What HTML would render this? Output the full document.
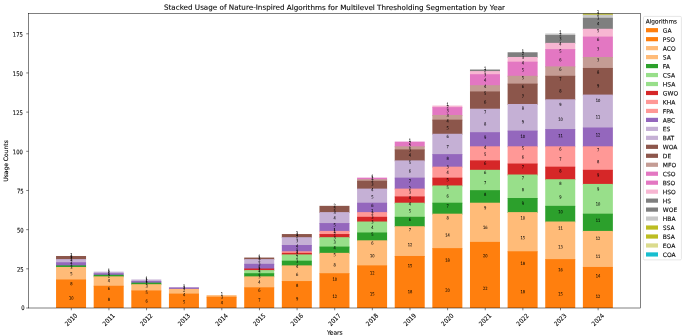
<!DOCTYPE html>
<html lang="en"><head><meta charset="utf-8"><title>Stacked Usage of Nature-Inspired Algorithms</title>
<style>html,body{margin:0;padding:0;background:#fff;overflow:hidden}svg{display:block}text{font-family:"DejaVu Sans","Liberation Sans",sans-serif;fill:#000;stroke:#000;stroke-width:0.1;paint-order:stroke fill;text-rendering:geometricPrecision}.t{font-size:6px}.l{font-size:4px;text-anchor:middle}.l text{stroke-width:0.06;fill-opacity:.88}.ti{font-size:7.2px;text-anchor:middle}.yr{text-anchor:end}.m{text-anchor:middle}</style></head><body>
<svg width="685" height="335" viewBox="0 0 685 335">
<rect width="685" height="335" fill="#fff"/>
<defs><clipPath id="ax"><rect x="28.5" y="13.4" width="612.1" height="294.6"/></clipPath></defs>
<g clip-path="url(#ax)">
<rect x="56.05" y="255.99" width="30" height="4.03" fill="#8c564b"/>
<rect x="56.05" y="259.12" width="30" height="4.03" fill="#c5b0d5"/>
<rect x="56.05" y="262.26" width="30" height="4.03" fill="#9467bd"/>
<rect x="56.05" y="265.39" width="30" height="2.47" fill="#2ca02c"/>
<rect x="56.05" y="266.96" width="30" height="13.44" fill="#ffbb78"/>
<rect x="56.05" y="279.49" width="30" height="28.51" fill="#ff7f0e"/>
<rect x="93.68" y="271.66" width="30" height="2.47" fill="#c5b0d5"/>
<rect x="93.68" y="273.23" width="30" height="2.47" fill="#9467bd"/>
<rect x="93.68" y="274.79" width="30" height="2.47" fill="#2ca02c"/>
<rect x="93.68" y="276.36" width="30" height="10.3" fill="#ffbb78"/>
<rect x="93.68" y="285.76" width="30" height="22.24" fill="#ff7f0e"/>
<rect x="131.31" y="279.49" width="30" height="2.47" fill="#c5b0d5"/>
<rect x="131.31" y="281.06" width="30" height="2.47" fill="#9467bd"/>
<rect x="131.31" y="282.63" width="30" height="2.47" fill="#2ca02c"/>
<rect x="131.31" y="284.19" width="30" height="7.17" fill="#ffbb78"/>
<rect x="131.31" y="290.46" width="30" height="17.54" fill="#ff7f0e"/>
<rect x="168.94" y="287.33" width="30" height="2.47" fill="#9467bd"/>
<rect x="168.94" y="288.9" width="30" height="5.6" fill="#ffbb78"/>
<rect x="168.94" y="293.6" width="30" height="14.4" fill="#ff7f0e"/>
<rect x="206.57" y="295.16" width="30" height="2.47" fill="#ffbb78"/>
<rect x="206.57" y="296.73" width="30" height="11.27" fill="#ff7f0e"/>
<rect x="244.2" y="257.56" width="30" height="2.47" fill="#8c564b"/>
<rect x="244.2" y="259.12" width="30" height="5.6" fill="#c5b0d5"/>
<rect x="244.2" y="263.82" width="30" height="5.6" fill="#9467bd"/>
<rect x="244.2" y="268.52" width="30" height="2.47" fill="#d62728"/>
<rect x="244.2" y="270.09" width="30" height="4.03" fill="#98df8a"/>
<rect x="244.2" y="273.23" width="30" height="4.03" fill="#2ca02c"/>
<rect x="244.2" y="276.36" width="30" height="11.87" fill="#ffbb78"/>
<rect x="244.2" y="287.33" width="30" height="20.67" fill="#ff7f0e"/>
<rect x="281.83" y="234.05" width="30" height="4.03" fill="#8c564b"/>
<rect x="281.83" y="237.19" width="30" height="8.73" fill="#c5b0d5"/>
<rect x="281.83" y="245.02" width="30" height="7.17" fill="#9467bd"/>
<rect x="281.83" y="251.29" width="30" height="2.47" fill="#ff9896"/>
<rect x="281.83" y="252.85" width="30" height="2.47" fill="#d62728"/>
<rect x="281.83" y="254.42" width="30" height="7.17" fill="#98df8a"/>
<rect x="281.83" y="260.69" width="30" height="5.6" fill="#2ca02c"/>
<rect x="281.83" y="265.39" width="30" height="16.57" fill="#ffbb78"/>
<rect x="281.83" y="281.06" width="30" height="26.94" fill="#ff7f0e"/>
<rect x="319.46" y="205.84" width="30" height="7.17" fill="#8c564b"/>
<rect x="319.46" y="212.11" width="30" height="11.87" fill="#c5b0d5"/>
<rect x="319.46" y="223.08" width="30" height="8.73" fill="#9467bd"/>
<rect x="319.46" y="230.92" width="30" height="4.03" fill="#ff9896"/>
<rect x="319.46" y="234.05" width="30" height="4.03" fill="#d62728"/>
<rect x="319.46" y="237.19" width="30" height="10.3" fill="#98df8a"/>
<rect x="319.46" y="246.59" width="30" height="7.17" fill="#2ca02c"/>
<rect x="319.46" y="252.85" width="30" height="21.27" fill="#ffbb78"/>
<rect x="319.46" y="273.23" width="30" height="34.77" fill="#ff7f0e"/>
<rect x="357.09" y="177.64" width="30" height="2.47" fill="#e377c2"/>
<rect x="357.09" y="179.21" width="30" height="2.47" fill="#c49c94"/>
<rect x="357.09" y="180.77" width="30" height="8.74" fill="#8c564b"/>
<rect x="357.09" y="188.61" width="30" height="15" fill="#c5b0d5"/>
<rect x="357.09" y="202.71" width="30" height="10.3" fill="#9467bd"/>
<rect x="357.09" y="212.11" width="30" height="5.6" fill="#ff9896"/>
<rect x="357.09" y="216.81" width="30" height="5.6" fill="#d62728"/>
<rect x="357.09" y="221.51" width="30" height="11.87" fill="#98df8a"/>
<rect x="357.09" y="232.48" width="30" height="8.74" fill="#2ca02c"/>
<rect x="357.09" y="240.32" width="30" height="25.97" fill="#ffbb78"/>
<rect x="357.09" y="265.39" width="30" height="42.61" fill="#ff7f0e"/>
<rect x="394.72" y="141.6" width="30" height="5.6" fill="#e377c2"/>
<rect x="394.72" y="146.3" width="30" height="4.03" fill="#c49c94"/>
<rect x="394.72" y="149.43" width="30" height="11.87" fill="#8c564b"/>
<rect x="394.72" y="160.4" width="30" height="18.14" fill="#c5b0d5"/>
<rect x="394.72" y="177.64" width="30" height="11.87" fill="#9467bd"/>
<rect x="394.72" y="188.61" width="30" height="8.73" fill="#ff9896"/>
<rect x="394.72" y="196.44" width="30" height="7.17" fill="#d62728"/>
<rect x="394.72" y="202.71" width="30" height="15" fill="#98df8a"/>
<rect x="394.72" y="216.81" width="30" height="10.3" fill="#2ca02c"/>
<rect x="394.72" y="226.22" width="30" height="30.67" fill="#ffbb78"/>
<rect x="394.72" y="255.99" width="30" height="52.01" fill="#ff7f0e"/>
<rect x="432.35" y="105.56" width="30" height="2.47" fill="#f7b6d2"/>
<rect x="432.35" y="107.12" width="30" height="8.74" fill="#e377c2"/>
<rect x="432.35" y="114.96" width="30" height="5.6" fill="#c49c94"/>
<rect x="432.35" y="119.66" width="30" height="15" fill="#8c564b"/>
<rect x="432.35" y="133.76" width="30" height="21.27" fill="#c5b0d5"/>
<rect x="432.35" y="154.13" width="30" height="13.44" fill="#9467bd"/>
<rect x="432.35" y="166.67" width="30" height="11.87" fill="#ff9896"/>
<rect x="432.35" y="177.64" width="30" height="8.74" fill="#d62728"/>
<rect x="432.35" y="185.47" width="30" height="18.14" fill="#98df8a"/>
<rect x="432.35" y="202.71" width="30" height="11.87" fill="#2ca02c"/>
<rect x="432.35" y="213.68" width="30" height="35.37" fill="#ffbb78"/>
<rect x="432.35" y="248.15" width="30" height="59.85" fill="#ff7f0e"/>
<rect x="469.98" y="69.52" width="30" height="2.47" fill="#7f7f7f"/>
<rect x="469.98" y="71.08" width="30" height="4.03" fill="#f7b6d2"/>
<rect x="469.98" y="74.22" width="30" height="11.87" fill="#e377c2"/>
<rect x="469.98" y="85.19" width="30" height="7.17" fill="#c49c94"/>
<rect x="469.98" y="91.45" width="30" height="18.14" fill="#8c564b"/>
<rect x="469.98" y="108.69" width="30" height="24.4" fill="#c5b0d5"/>
<rect x="469.98" y="132.2" width="30" height="15" fill="#9467bd"/>
<rect x="469.98" y="146.3" width="30" height="15" fill="#ff9896"/>
<rect x="469.98" y="160.4" width="30" height="10.3" fill="#d62728"/>
<rect x="469.98" y="169.8" width="30" height="21.27" fill="#98df8a"/>
<rect x="469.98" y="190.18" width="30" height="13.44" fill="#2ca02c"/>
<rect x="469.98" y="202.71" width="30" height="40.07" fill="#ffbb78"/>
<rect x="469.98" y="241.89" width="30" height="66.11" fill="#ff7f0e"/>
<rect x="507.61" y="52.28" width="30" height="5.6" fill="#7f7f7f"/>
<rect x="507.61" y="56.98" width="30" height="5.6" fill="#f7b6d2"/>
<rect x="507.61" y="61.68" width="30" height="15" fill="#e377c2"/>
<rect x="507.61" y="75.78" width="30" height="8.74" fill="#c49c94"/>
<rect x="507.61" y="83.62" width="30" height="21.27" fill="#8c564b"/>
<rect x="507.61" y="103.99" width="30" height="27.54" fill="#c5b0d5"/>
<rect x="507.61" y="130.63" width="30" height="16.57" fill="#9467bd"/>
<rect x="507.61" y="146.3" width="30" height="18.14" fill="#ff9896"/>
<rect x="507.61" y="163.54" width="30" height="11.87" fill="#d62728"/>
<rect x="507.61" y="174.5" width="30" height="24.4" fill="#98df8a"/>
<rect x="507.61" y="198.01" width="30" height="15" fill="#2ca02c"/>
<rect x="507.61" y="212.11" width="30" height="40.07" fill="#ffbb78"/>
<rect x="507.61" y="251.29" width="30" height="56.71" fill="#ff7f0e"/>
<rect x="545.24" y="33.48" width="30" height="2.47" fill="#c7c7c7"/>
<rect x="545.24" y="35.04" width="30" height="8.74" fill="#7f7f7f"/>
<rect x="545.24" y="42.88" width="30" height="7.17" fill="#f7b6d2"/>
<rect x="545.24" y="49.14" width="30" height="18.14" fill="#e377c2"/>
<rect x="545.24" y="66.38" width="30" height="10.3" fill="#c49c94"/>
<rect x="545.24" y="75.78" width="30" height="24.4" fill="#8c564b"/>
<rect x="545.24" y="99.29" width="30" height="30.67" fill="#c5b0d5"/>
<rect x="545.24" y="129.06" width="30" height="18.14" fill="#9467bd"/>
<rect x="545.24" y="146.3" width="30" height="21.27" fill="#ff9896"/>
<rect x="545.24" y="166.67" width="30" height="13.44" fill="#d62728"/>
<rect x="545.24" y="179.21" width="30" height="27.54" fill="#98df8a"/>
<rect x="545.24" y="205.84" width="30" height="16.57" fill="#2ca02c"/>
<rect x="545.24" y="221.51" width="30" height="38.51" fill="#ffbb78"/>
<rect x="545.24" y="259.12" width="30" height="48.88" fill="#ff7f0e"/>
<rect x="582.87" y="13.1" width="30" height="2.47" fill="#bcbd22"/>
<rect x="582.87" y="14.67" width="30" height="4.03" fill="#c7c7c7"/>
<rect x="582.87" y="17.81" width="30" height="11.87" fill="#7f7f7f"/>
<rect x="582.87" y="28.77" width="30" height="8.73" fill="#f7b6d2"/>
<rect x="582.87" y="36.61" width="30" height="21.27" fill="#e377c2"/>
<rect x="582.87" y="56.98" width="30" height="11.87" fill="#c49c94"/>
<rect x="582.87" y="67.95" width="30" height="27.54" fill="#8c564b"/>
<rect x="582.87" y="94.59" width="30" height="33.81" fill="#c5b0d5"/>
<rect x="582.87" y="127.5" width="30" height="19.7" fill="#9467bd"/>
<rect x="582.87" y="146.3" width="30" height="24.4" fill="#ff9896"/>
<rect x="582.87" y="169.8" width="30" height="15" fill="#d62728"/>
<rect x="582.87" y="183.91" width="30" height="30.67" fill="#98df8a"/>
<rect x="582.87" y="213.68" width="30" height="18.14" fill="#2ca02c"/>
<rect x="582.87" y="230.92" width="30" height="36.94" fill="#ffbb78"/>
<rect x="582.87" y="266.96" width="30" height="41.04" fill="#ff7f0e"/>
</g>
<g class="l">
<text transform="translate(71.3 299.47) rotate(0.05) scale(0.91 1.08)">10</text>
<text transform="translate(71.3 285.36) rotate(0.05) scale(0.91 1.08)">8</text>
<text transform="translate(71.3 275.18) rotate(0.05) scale(0.91 1.08)">5</text>
<text transform="translate(71.3 268.91) rotate(0.05) scale(0.91 1.08)">3</text>
<text transform="translate(71.3 265.77) rotate(0.05) scale(0.91 1.08)">1</text>
<text transform="translate(71.3 263.42) rotate(0.05) scale(0.91 1.08)">2</text>
<text transform="translate(71.3 261.07) rotate(0.05) scale(0.91 1.08)">1</text>
<text transform="translate(71.3 259.51) rotate(0.05) scale(0.91 1.08)">1</text>
<text transform="translate(71.3 257.94) rotate(0.05) scale(0.91 1.08)">1</text>
<text transform="translate(71.3 256.37) rotate(0.05) scale(0.91 1.08)">1</text>
<text transform="translate(108.93 301.03) rotate(0.05) scale(0.91 1.08)">8</text>
<text transform="translate(108.93 290.06) rotate(0.05) scale(0.91 1.08)">6</text>
<text transform="translate(108.93 282.23) rotate(0.05) scale(0.91 1.08)">4</text>
<text transform="translate(108.93 277.53) rotate(0.05) scale(0.91 1.08)">2</text>
<text transform="translate(108.93 275.18) rotate(0.05) scale(0.91 1.08)">1</text>
<text transform="translate(108.93 273.61) rotate(0.05) scale(0.91 1.08)">1</text>
<text transform="translate(108.93 272.04) rotate(0.05) scale(0.91 1.08)">1</text>
<text transform="translate(146.56 302.6) rotate(0.05) scale(0.91 1.08)">6</text>
<text transform="translate(146.56 293.98) rotate(0.05) scale(0.91 1.08)">5</text>
<text transform="translate(146.56 287.71) rotate(0.05) scale(0.91 1.08)">3</text>
<text transform="translate(146.56 284.58) rotate(0.05) scale(0.91 1.08)">1</text>
<text transform="translate(146.56 283.01) rotate(0.05) scale(0.91 1.08)">1</text>
<text transform="translate(146.56 281.44) rotate(0.05) scale(0.91 1.08)">1</text>
<text transform="translate(146.56 279.88) rotate(0.05) scale(0.91 1.08)">1</text>
<text transform="translate(184.19 303.38) rotate(0.05) scale(0.91 1.08)">5</text>
<text transform="translate(184.19 296.33) rotate(0.05) scale(0.91 1.08)">4</text>
<text transform="translate(184.19 291.63) rotate(0.05) scale(0.91 1.08)">2</text>
<text transform="translate(184.19 289.28) rotate(0.05) scale(0.91 1.08)">1</text>
<text transform="translate(184.19 287.71) rotate(0.05) scale(0.91 1.08)">1</text>
<text transform="translate(221.82 304.17) rotate(0.05) scale(0.91 1.08)">4</text>
<text transform="translate(221.82 298.68) rotate(0.05) scale(0.91 1.08)">3</text>
<text transform="translate(221.82 295.55) rotate(0.05) scale(0.91 1.08)">1</text>
<text transform="translate(259.45 301.82) rotate(0.05) scale(0.91 1.08)">7</text>
<text transform="translate(259.45 291.63) rotate(0.05) scale(0.91 1.08)">6</text>
<text transform="translate(259.45 283.8) rotate(0.05) scale(0.91 1.08)">4</text>
<text transform="translate(259.45 278.31) rotate(0.05) scale(0.91 1.08)">3</text>
<text transform="translate(259.45 274.39) rotate(0.05) scale(0.91 1.08)">2</text>
<text transform="translate(259.45 272.04) rotate(0.05) scale(0.91 1.08)">1</text>
<text transform="translate(259.45 270.48) rotate(0.05) scale(0.91 1.08)">1</text>
<text transform="translate(259.45 268.91) rotate(0.05) scale(0.91 1.08)">1</text>
<text transform="translate(259.45 265.77) rotate(0.05) scale(0.91 1.08)">3</text>
<text transform="translate(259.45 261.86) rotate(0.05) scale(0.91 1.08)">2</text>
<text transform="translate(259.45 259.51) rotate(0.05) scale(0.91 1.08)">1</text>
<text transform="translate(259.45 257.94) rotate(0.05) scale(0.91 1.08)">1</text>
<text transform="translate(297.08 300.25) rotate(0.05) scale(0.91 1.08)">9</text>
<text transform="translate(297.08 286.93) rotate(0.05) scale(0.91 1.08)">8</text>
<text transform="translate(297.08 275.96) rotate(0.05) scale(0.91 1.08)">6</text>
<text transform="translate(297.08 268.12) rotate(0.05) scale(0.91 1.08)">4</text>
<text transform="translate(297.08 262.64) rotate(0.05) scale(0.91 1.08)">3</text>
<text transform="translate(297.08 258.72) rotate(0.05) scale(0.91 1.08)">2</text>
<text transform="translate(297.08 255.59) rotate(0.05) scale(0.91 1.08)">2</text>
<text transform="translate(297.08 253.24) rotate(0.05) scale(0.91 1.08)">1</text>
<text transform="translate(297.08 251.67) rotate(0.05) scale(0.91 1.08)">1</text>
<text transform="translate(297.08 247.75) rotate(0.05) scale(0.91 1.08)">4</text>
<text transform="translate(297.08 242.27) rotate(0.05) scale(0.91 1.08)">3</text>
<text transform="translate(297.08 238.35) rotate(0.05) scale(0.91 1.08)">2</text>
<text transform="translate(297.08 236) rotate(0.05) scale(0.91 1.08)">1</text>
<text transform="translate(297.08 234.43) rotate(0.05) scale(0.91 1.08)">1</text>
<text transform="translate(334.71 297.9) rotate(0.05) scale(0.91 1.08)">12</text>
<text transform="translate(334.71 280.66) rotate(0.05) scale(0.91 1.08)">10</text>
<text transform="translate(334.71 266.56) rotate(0.05) scale(0.91 1.08)">8</text>
<text transform="translate(334.71 256.37) rotate(0.05) scale(0.91 1.08)">5</text>
<text transform="translate(334.71 249.32) rotate(0.05) scale(0.91 1.08)">4</text>
<text transform="translate(334.71 243.84) rotate(0.05) scale(0.91 1.08)">3</text>
<text transform="translate(334.71 239.14) rotate(0.05) scale(0.91 1.08)">3</text>
<text transform="translate(334.71 235.22) rotate(0.05) scale(0.91 1.08)">2</text>
<text transform="translate(334.71 232.87) rotate(0.05) scale(0.91 1.08)">1</text>
<text transform="translate(334.71 231.3) rotate(0.05) scale(0.91 1.08)">1</text>
<text transform="translate(334.71 226.6) rotate(0.05) scale(0.91 1.08)">5</text>
<text transform="translate(334.71 219.55) rotate(0.05) scale(0.91 1.08)">4</text>
<text transform="translate(334.71 214.06) rotate(0.05) scale(0.91 1.08)">3</text>
<text transform="translate(334.71 210.15) rotate(0.05) scale(0.91 1.08)">2</text>
<text transform="translate(334.71 207.01) rotate(0.05) scale(0.91 1.08)">2</text>
<text transform="translate(372.34 295.55) rotate(0.05) scale(0.91 1.08)">15</text>
<text transform="translate(372.34 274.39) rotate(0.05) scale(0.91 1.08)">12</text>
<text transform="translate(372.34 257.16) rotate(0.05) scale(0.91 1.08)">10</text>
<text transform="translate(372.34 244.62) rotate(0.05) scale(0.91 1.08)">6</text>
<text transform="translate(372.34 236) rotate(0.05) scale(0.91 1.08)">5</text>
<text transform="translate(372.34 228.95) rotate(0.05) scale(0.91 1.08)">4</text>
<text transform="translate(372.34 223.47) rotate(0.05) scale(0.91 1.08)">3</text>
<text transform="translate(372.34 218.76) rotate(0.05) scale(0.91 1.08)">3</text>
<text transform="translate(372.34 214.85) rotate(0.05) scale(0.91 1.08)">2</text>
<text transform="translate(372.34 212.5) rotate(0.05) scale(0.91 1.08)">1</text>
<text transform="translate(372.34 207.01) rotate(0.05) scale(0.91 1.08)">6</text>
<text transform="translate(372.34 198.39) rotate(0.05) scale(0.91 1.08)">5</text>
<text transform="translate(372.34 191.34) rotate(0.05) scale(0.91 1.08)">4</text>
<text transform="translate(372.34 185.86) rotate(0.05) scale(0.91 1.08)">3</text>
<text transform="translate(372.34 181.94) rotate(0.05) scale(0.91 1.08)">2</text>
<text transform="translate(372.34 179.59) rotate(0.05) scale(0.91 1.08)">1</text>
<text transform="translate(372.34 178.02) rotate(0.05) scale(0.91 1.08)">1</text>
<text transform="translate(409.97 293.2) rotate(0.05) scale(0.91 1.08)">18</text>
<text transform="translate(409.97 267.34) rotate(0.05) scale(0.91 1.08)">15</text>
<text transform="translate(409.97 246.19) rotate(0.05) scale(0.91 1.08)">12</text>
<text transform="translate(409.97 231.3) rotate(0.05) scale(0.91 1.08)">7</text>
<text transform="translate(409.97 221.11) rotate(0.05) scale(0.91 1.08)">6</text>
<text transform="translate(409.97 212.5) rotate(0.05) scale(0.91 1.08)">5</text>
<text transform="translate(409.97 205.44) rotate(0.05) scale(0.91 1.08)">4</text>
<text transform="translate(409.97 199.18) rotate(0.05) scale(0.91 1.08)">4</text>
<text transform="translate(409.97 193.69) rotate(0.05) scale(0.91 1.08)">3</text>
<text transform="translate(409.97 189.78) rotate(0.05) scale(0.91 1.08)">2</text>
<text transform="translate(409.97 182.72) rotate(0.05) scale(0.91 1.08)">7</text>
<text transform="translate(409.97 172.54) rotate(0.05) scale(0.91 1.08)">6</text>
<text transform="translate(409.97 163.92) rotate(0.05) scale(0.91 1.08)">5</text>
<text transform="translate(409.97 156.87) rotate(0.05) scale(0.91 1.08)">4</text>
<text transform="translate(409.97 151.38) rotate(0.05) scale(0.91 1.08)">3</text>
<text transform="translate(409.97 147.47) rotate(0.05) scale(0.91 1.08)">2</text>
<text transform="translate(409.97 144.33) rotate(0.05) scale(0.91 1.08)">2</text>
<text transform="translate(409.97 141.98) rotate(0.05) scale(0.91 1.08)">1</text>
<text transform="translate(447.6 291.63) rotate(0.05) scale(0.91 1.08)">20</text>
<text transform="translate(447.6 261.86) rotate(0.05) scale(0.91 1.08)">18</text>
<text transform="translate(447.6 236.78) rotate(0.05) scale(0.91 1.08)">14</text>
<text transform="translate(447.6 219.55) rotate(0.05) scale(0.91 1.08)">8</text>
<text transform="translate(447.6 207.8) rotate(0.05) scale(0.91 1.08)">7</text>
<text transform="translate(447.6 197.61) rotate(0.05) scale(0.91 1.08)">6</text>
<text transform="translate(447.6 188.99) rotate(0.05) scale(0.91 1.08)">5</text>
<text transform="translate(447.6 181.16) rotate(0.05) scale(0.91 1.08)">5</text>
<text transform="translate(447.6 174.1) rotate(0.05) scale(0.91 1.08)">4</text>
<text transform="translate(447.6 168.62) rotate(0.05) scale(0.91 1.08)">3</text>
<text transform="translate(447.6 160) rotate(0.05) scale(0.91 1.08)">8</text>
<text transform="translate(447.6 148.25) rotate(0.05) scale(0.91 1.08)">7</text>
<text transform="translate(447.6 138.06) rotate(0.05) scale(0.91 1.08)">6</text>
<text transform="translate(447.6 129.45) rotate(0.05) scale(0.91 1.08)">5</text>
<text transform="translate(447.6 122.39) rotate(0.05) scale(0.91 1.08)">4</text>
<text transform="translate(447.6 116.91) rotate(0.05) scale(0.91 1.08)">3</text>
<text transform="translate(447.6 112.21) rotate(0.05) scale(0.91 1.08)">3</text>
<text transform="translate(447.6 108.29) rotate(0.05) scale(0.91 1.08)">2</text>
<text transform="translate(447.6 105.94) rotate(0.05) scale(0.91 1.08)">1</text>
<text transform="translate(485.23 290.06) rotate(0.05) scale(0.91 1.08)">22</text>
<text transform="translate(485.23 257.16) rotate(0.05) scale(0.91 1.08)">20</text>
<text transform="translate(485.23 228.95) rotate(0.05) scale(0.91 1.08)">16</text>
<text transform="translate(485.23 209.36) rotate(0.05) scale(0.91 1.08)">9</text>
<text transform="translate(485.23 196.04) rotate(0.05) scale(0.91 1.08)">8</text>
<text transform="translate(485.23 184.29) rotate(0.05) scale(0.91 1.08)">7</text>
<text transform="translate(485.23 174.1) rotate(0.05) scale(0.91 1.08)">6</text>
<text transform="translate(485.23 164.7) rotate(0.05) scale(0.91 1.08)">6</text>
<text transform="translate(485.23 156.08) rotate(0.05) scale(0.91 1.08)">5</text>
<text transform="translate(485.23 149.03) rotate(0.05) scale(0.91 1.08)">4</text>
<text transform="translate(485.23 138.85) rotate(0.05) scale(0.91 1.08)">9</text>
<text transform="translate(485.23 125.53) rotate(0.05) scale(0.91 1.08)">8</text>
<text transform="translate(485.23 113.78) rotate(0.05) scale(0.91 1.08)">7</text>
<text transform="translate(485.23 103.59) rotate(0.05) scale(0.91 1.08)">6</text>
<text transform="translate(485.23 94.97) rotate(0.05) scale(0.91 1.08)">5</text>
<text transform="translate(485.23 87.92) rotate(0.05) scale(0.91 1.08)">4</text>
<text transform="translate(485.23 81.65) rotate(0.05) scale(0.91 1.08)">4</text>
<text transform="translate(485.23 76.17) rotate(0.05) scale(0.91 1.08)">3</text>
<text transform="translate(485.23 72.25) rotate(0.05) scale(0.91 1.08)">2</text>
<text transform="translate(485.23 69.9) rotate(0.05) scale(0.91 1.08)">1</text>
<text transform="translate(522.86 293.2) rotate(0.05) scale(0.91 1.08)">18</text>
<text transform="translate(522.86 264.99) rotate(0.05) scale(0.91 1.08)">18</text>
<text transform="translate(522.86 239.14) rotate(0.05) scale(0.91 1.08)">15</text>
<text transform="translate(522.86 219.55) rotate(0.05) scale(0.91 1.08)">10</text>
<text transform="translate(522.86 204.66) rotate(0.05) scale(0.91 1.08)">9</text>
<text transform="translate(522.86 191.34) rotate(0.05) scale(0.91 1.08)">8</text>
<text transform="translate(522.86 179.59) rotate(0.05) scale(0.91 1.08)">7</text>
<text transform="translate(522.86 168.62) rotate(0.05) scale(0.91 1.08)">7</text>
<text transform="translate(522.86 158.43) rotate(0.05) scale(0.91 1.08)">6</text>
<text transform="translate(522.86 149.82) rotate(0.05) scale(0.91 1.08)">5</text>
<text transform="translate(522.86 138.06) rotate(0.05) scale(0.91 1.08)">10</text>
<text transform="translate(522.86 123.18) rotate(0.05) scale(0.91 1.08)">9</text>
<text transform="translate(522.86 109.86) rotate(0.05) scale(0.91 1.08)">8</text>
<text transform="translate(522.86 98.11) rotate(0.05) scale(0.91 1.08)">7</text>
<text transform="translate(522.86 87.92) rotate(0.05) scale(0.91 1.08)">6</text>
<text transform="translate(522.86 79.3) rotate(0.05) scale(0.91 1.08)">5</text>
<text transform="translate(522.86 71.47) rotate(0.05) scale(0.91 1.08)">5</text>
<text transform="translate(522.86 64.41) rotate(0.05) scale(0.91 1.08)">4</text>
<text transform="translate(522.86 58.93) rotate(0.05) scale(0.91 1.08)">3</text>
<text transform="translate(522.86 55.01) rotate(0.05) scale(0.91 1.08)">2</text>
<text transform="translate(522.86 52.66) rotate(0.05) scale(0.91 1.08)">1</text>
<text transform="translate(560.49 295.55) rotate(0.05) scale(0.91 1.08)">15</text>
<text transform="translate(560.49 271.26) rotate(0.05) scale(0.91 1.08)">16</text>
<text transform="translate(560.49 248.54) rotate(0.05) scale(0.91 1.08)">13</text>
<text transform="translate(560.49 229.73) rotate(0.05) scale(0.91 1.08)">11</text>
<text transform="translate(560.49 213.28) rotate(0.05) scale(0.91 1.08)">10</text>
<text transform="translate(560.49 198.39) rotate(0.05) scale(0.91 1.08)">9</text>
<text transform="translate(560.49 185.07) rotate(0.05) scale(0.91 1.08)">8</text>
<text transform="translate(560.49 172.54) rotate(0.05) scale(0.91 1.08)">8</text>
<text transform="translate(560.49 160.79) rotate(0.05) scale(0.91 1.08)">7</text>
<text transform="translate(560.49 150.6) rotate(0.05) scale(0.91 1.08)">6</text>
<text transform="translate(560.49 137.28) rotate(0.05) scale(0.91 1.08)">11</text>
<text transform="translate(560.49 120.83) rotate(0.05) scale(0.91 1.08)">10</text>
<text transform="translate(560.49 105.94) rotate(0.05) scale(0.91 1.08)">9</text>
<text transform="translate(560.49 92.62) rotate(0.05) scale(0.91 1.08)">8</text>
<text transform="translate(560.49 80.87) rotate(0.05) scale(0.91 1.08)">7</text>
<text transform="translate(560.49 70.68) rotate(0.05) scale(0.91 1.08)">6</text>
<text transform="translate(560.49 61.28) rotate(0.05) scale(0.91 1.08)">6</text>
<text transform="translate(560.49 52.66) rotate(0.05) scale(0.91 1.08)">5</text>
<text transform="translate(560.49 45.61) rotate(0.05) scale(0.91 1.08)">4</text>
<text transform="translate(560.49 40.13) rotate(0.05) scale(0.91 1.08)">3</text>
<text transform="translate(560.49 36.21) rotate(0.05) scale(0.91 1.08)">2</text>
<text transform="translate(560.49 33.86) rotate(0.05) scale(0.91 1.08)">1</text>
<text transform="translate(598.12 297.9) rotate(0.05) scale(0.91 1.08)">12</text>
<text transform="translate(598.12 277.53) rotate(0.05) scale(0.91 1.08)">14</text>
<text transform="translate(598.12 257.94) rotate(0.05) scale(0.91 1.08)">11</text>
<text transform="translate(598.12 239.92) rotate(0.05) scale(0.91 1.08)">12</text>
<text transform="translate(598.12 221.9) rotate(0.05) scale(0.91 1.08)">11</text>
<text transform="translate(598.12 205.44) rotate(0.05) scale(0.91 1.08)">10</text>
<text transform="translate(598.12 190.56) rotate(0.05) scale(0.91 1.08)">9</text>
<text transform="translate(598.12 176.46) rotate(0.05) scale(0.91 1.08)">9</text>
<text transform="translate(598.12 163.14) rotate(0.05) scale(0.91 1.08)">8</text>
<text transform="translate(598.12 151.38) rotate(0.05) scale(0.91 1.08)">7</text>
<text transform="translate(598.12 136.5) rotate(0.05) scale(0.91 1.08)">12</text>
<text transform="translate(598.12 118.48) rotate(0.05) scale(0.91 1.08)">11</text>
<text transform="translate(598.12 102.02) rotate(0.05) scale(0.91 1.08)">10</text>
<text transform="translate(598.12 87.14) rotate(0.05) scale(0.91 1.08)">9</text>
<text transform="translate(598.12 73.82) rotate(0.05) scale(0.91 1.08)">8</text>
<text transform="translate(598.12 62.06) rotate(0.05) scale(0.91 1.08)">7</text>
<text transform="translate(598.12 51.1) rotate(0.05) scale(0.91 1.08)">7</text>
<text transform="translate(598.12 40.91) rotate(0.05) scale(0.91 1.08)">6</text>
<text transform="translate(598.12 32.29) rotate(0.05) scale(0.91 1.08)">5</text>
<text transform="translate(598.12 25.24) rotate(0.05) scale(0.91 1.08)">4</text>
<text transform="translate(598.12 19.76) rotate(0.05) scale(0.91 1.08)">3</text>
<text transform="translate(598.12 15.84) rotate(0.05) scale(0.91 1.08)">2</text>
<text transform="translate(598.12 13.49) rotate(0.05) scale(0.91 1.08)">1</text>
</g>
<rect x="28.5" y="13.4" width="612.1" height="294.6" fill="none" stroke="#000" stroke-width="0.5"/>
<path d="M71.3 308v2.3M108.93 308v2.3M146.56 308v2.3M184.19 308v2.3M221.82 308v2.3M259.45 308v2.3M297.08 308v2.3M334.71 308v2.3M372.34 308v2.3M409.97 308v2.3M447.6 308v2.3M485.23 308v2.3M522.86 308v2.3M560.49 308v2.3M598.12 308v2.3M28.5 308h-2.3M28.5 268.82h-2.3M28.5 229.65h-2.3M28.5 190.48h-2.3M28.5 151.3h-2.3M28.5 112.12h-2.3M28.5 72.95h-2.3M28.5 33.78h-2.3" stroke="#000" stroke-width="0.5" fill="none"/>
<g class="t">
<text class="yr" transform="translate(24.6 309.9) rotate(0.05) scale(0.88 1.06)">0</text>
<text class="yr" transform="translate(23.7 271.72) rotate(0.05) scale(0.88 1.06)">25</text>
<text class="yr" transform="translate(23.7 232.55) rotate(0.05) scale(0.88 1.06)">50</text>
<text class="yr" transform="translate(23.7 193.38) rotate(0.05) scale(0.88 1.06)">75</text>
<text class="yr" transform="translate(22.9 154.3) rotate(0.05) scale(0.88 1.06)">100</text>
<text class="yr" transform="translate(22.9 115.12) rotate(0.05) scale(0.88 1.06)">125</text>
<text class="yr" transform="translate(22.9 75.95) rotate(0.05) scale(0.88 1.06)">150</text>
<text class="yr" transform="translate(22.9 36.78) rotate(0.05) scale(0.88 1.06)">175</text>
<text class="m" transform="translate(71 319.6) rotate(-45) scale(0.95 1.07)" y="2.2">2010</text>
<text class="m" transform="translate(108.63 319.6) rotate(-45) scale(0.95 1.07)" y="2.2">2011</text>
<text class="m" transform="translate(146.26 319.6) rotate(-45) scale(0.95 1.07)" y="2.2">2012</text>
<text class="m" transform="translate(183.89 319.6) rotate(-45) scale(0.95 1.07)" y="2.2">2013</text>
<text class="m" transform="translate(221.52 319.6) rotate(-45) scale(0.95 1.07)" y="2.2">2014</text>
<text class="m" transform="translate(259.15 319.6) rotate(-45) scale(0.95 1.07)" y="2.2">2015</text>
<text class="m" transform="translate(296.78 319.6) rotate(-45) scale(0.95 1.07)" y="2.2">2016</text>
<text class="m" transform="translate(334.41 319.6) rotate(-45) scale(0.95 1.07)" y="2.2">2017</text>
<text class="m" transform="translate(372.04 319.6) rotate(-45) scale(0.95 1.07)" y="2.2">2018</text>
<text class="m" transform="translate(409.67 319.6) rotate(-45) scale(0.95 1.07)" y="2.2">2019</text>
<text class="m" transform="translate(447.3 319.6) rotate(-45) scale(0.95 1.07)" y="2.2">2020</text>
<text class="m" transform="translate(484.93 319.6) rotate(-45) scale(0.95 1.07)" y="2.2">2021</text>
<text class="m" transform="translate(522.56 319.6) rotate(-45) scale(0.95 1.07)" y="2.2">2022</text>
<text class="m" transform="translate(560.19 319.6) rotate(-45) scale(0.95 1.07)" y="2.2">2023</text>
<text class="m" transform="translate(597.82 319.6) rotate(-45) scale(0.95 1.07)" y="2.2">2024</text>
<text class="m" transform="translate(334.8 334.8) rotate(0.05)">Years</text>
<text class="m" transform="translate(8 161) rotate(-89.95)">Usage Counts</text>
</g>
<text class="ti" transform="translate(334.5 9.9) rotate(0.03)">Stacked Usage of Nature-Inspired Algorithms for Multilevel Thresholding Segmentation by Year</text>
<rect x="643.4" y="16.4" width="38" height="243.5" rx="1.2" fill="#fff" fill-opacity="0.8" stroke="#ccc" stroke-opacity="0.8" stroke-width="0.6"/>
<g class="t">
<text class="m" transform="translate(661.4 23.6) rotate(0.05) scale(0.965 1)">Algorithms</text>
<rect x="646" y="28.1" width="12" height="4.2" fill="#ff7f0e"/>
<text transform="translate(662.8 32.7) rotate(0.05)">GA</text>
<rect x="646" y="37.07" width="12" height="4.2" fill="#ff7f0e"/>
<text transform="translate(662.8 41.67) rotate(0.05)">PSO</text>
<rect x="646" y="46.04" width="12" height="4.2" fill="#ffbb78"/>
<text transform="translate(662.8 50.64) rotate(0.05)">ACO</text>
<rect x="646" y="55.01" width="12" height="4.2" fill="#ffbb78"/>
<text transform="translate(662.8 59.61) rotate(0.05)">SA</text>
<rect x="646" y="63.98" width="12" height="4.2" fill="#2ca02c"/>
<text transform="translate(662.8 68.58) rotate(0.05)">FA</text>
<rect x="646" y="72.95" width="12" height="4.2" fill="#98df8a"/>
<text transform="translate(662.8 77.55) rotate(0.05)">CSA</text>
<rect x="646" y="81.92" width="12" height="4.2" fill="#98df8a"/>
<text transform="translate(662.8 86.52) rotate(0.05)">HSA</text>
<rect x="646" y="90.89" width="12" height="4.2" fill="#d62728"/>
<text transform="translate(662.8 95.49) rotate(0.05)">GWO</text>
<rect x="646" y="99.86" width="12" height="4.2" fill="#ff9896"/>
<text transform="translate(662.8 104.46) rotate(0.05)">KHA</text>
<rect x="646" y="108.83" width="12" height="4.2" fill="#ff9896"/>
<text transform="translate(662.8 113.43) rotate(0.05)">FPA</text>
<rect x="646" y="117.8" width="12" height="4.2" fill="#9467bd"/>
<text transform="translate(662.8 122.4) rotate(0.05)">ABC</text>
<rect x="646" y="126.77" width="12" height="4.2" fill="#c5b0d5"/>
<text transform="translate(662.8 131.37) rotate(0.05)">ES</text>
<rect x="646" y="135.74" width="12" height="4.2" fill="#c5b0d5"/>
<text transform="translate(662.8 140.34) rotate(0.05)">BAT</text>
<rect x="646" y="144.71" width="12" height="4.2" fill="#8c564b"/>
<text transform="translate(662.8 149.31) rotate(0.05)">WOA</text>
<rect x="646" y="153.68" width="12" height="4.2" fill="#8c564b"/>
<text transform="translate(662.8 158.28) rotate(0.05)">DE</text>
<rect x="646" y="162.65" width="12" height="4.2" fill="#c49c94"/>
<text transform="translate(662.8 167.25) rotate(0.05)">MFO</text>
<rect x="646" y="171.62" width="12" height="4.2" fill="#e377c2"/>
<text transform="translate(662.8 176.22) rotate(0.05)">CSO</text>
<rect x="646" y="180.59" width="12" height="4.2" fill="#e377c2"/>
<text transform="translate(662.8 185.19) rotate(0.05)">BSO</text>
<rect x="646" y="189.56" width="12" height="4.2" fill="#f7b6d2"/>
<text transform="translate(662.8 194.16) rotate(0.05)">HSO</text>
<rect x="646" y="198.53" width="12" height="4.2" fill="#7f7f7f"/>
<text transform="translate(662.8 203.13) rotate(0.05)">HS</text>
<rect x="646" y="207.5" width="12" height="4.2" fill="#7f7f7f"/>
<text transform="translate(662.8 212.1) rotate(0.05)">WOE</text>
<rect x="646" y="216.47" width="12" height="4.2" fill="#c7c7c7"/>
<text transform="translate(662.8 221.07) rotate(0.05)">HBA</text>
<rect x="646" y="225.44" width="12" height="4.2" fill="#bcbd22"/>
<text transform="translate(662.8 230.04) rotate(0.05)">SSA</text>
<rect x="646" y="234.41" width="12" height="4.2" fill="#bcbd22"/>
<text transform="translate(662.8 239.01) rotate(0.05)">BSA</text>
<rect x="646" y="243.38" width="12" height="4.2" fill="#dbdb8d"/>
<text transform="translate(662.8 247.98) rotate(0.05)">EOA</text>
<rect x="646" y="252.35" width="12" height="4.2" fill="#17becf"/>
<text transform="translate(662.8 256.95) rotate(0.05)">COA</text>
</g>
</svg></body></html>
